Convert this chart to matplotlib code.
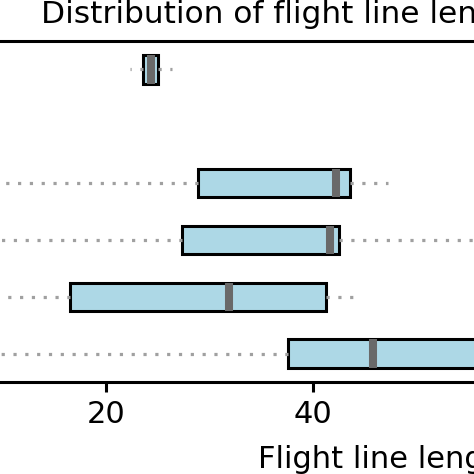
import matplotlib
matplotlib.use("Agg")
import matplotlib.pyplot as plt

# box statistics per row (bottom row first), slot 5 has no data
positions = [1, 2, 3, 4, 6]
whislo = [5.0, 10.4, 5.0, 5.0, 22.3]
q1 = [37.6, 16.5, 27.4, 28.9, 23.6]
med = [45.8, 31.9, 41.7, 42.3, 24.35]
q3 = [62.0, 41.3, 42.5, 43.6, 25.0]
whishi = [70.0, 43.9, 62.0, 47.3, 26.4]
xticks = [20, 40, 60]

stats = []
for i in range(len(positions)):
    stats.append({'whislo': whislo[i], 'q1': q1[i], 'med': med[i],
                  'q3': q3[i], 'whishi': whishi[i], 'fliers': []})

fig = plt.figure(figsize=(4.74, 4.74), dpi=100)
ax = fig.add_axes([0, 1 - 382 / 474, 1, 341 / 474])

ax.bxp(stats, positions=positions, vert=False, widths=0.5,
       patch_artist=True, showcaps=False, showfliers=False,
       boxprops=dict(facecolor='lightblue', edgecolor='black', linewidth=2.2),
       medianprops=dict(color='dimgray', linewidth=5.8),
       whiskerprops=dict(color='#a0a0a0', linewidth=2.3, linestyle=(0, (1, 2.7))))

# ticks first, otherwise set_xticks widens the limits again
ax.set_xticks(xticks)
ax.set_yticks([])
ax.set_xlim(9.76, 55.6)
ax.set_ylim(0.5, 6.5)

ax.spines['left'].set_visible(False)
ax.spines['right'].set_visible(False)
ax.spines['top'].set_linewidth(2.2)
ax.spines['bottom'].set_linewidth(2.2)
ax.tick_params(axis='x', length=7, width=2.2, pad=6, labelsize=22)

fig.text(41 / 474, 1 - 23 / 474, "Distribution of flight line lengths",
         fontsize=22.5, ha='left', va='baseline')
fig.text(258 / 474, 1 - 468 / 474, "Flight line length (km)",
         fontsize=22, ha='left', va='baseline')

fig.savefig("out.png", dpi=100)
